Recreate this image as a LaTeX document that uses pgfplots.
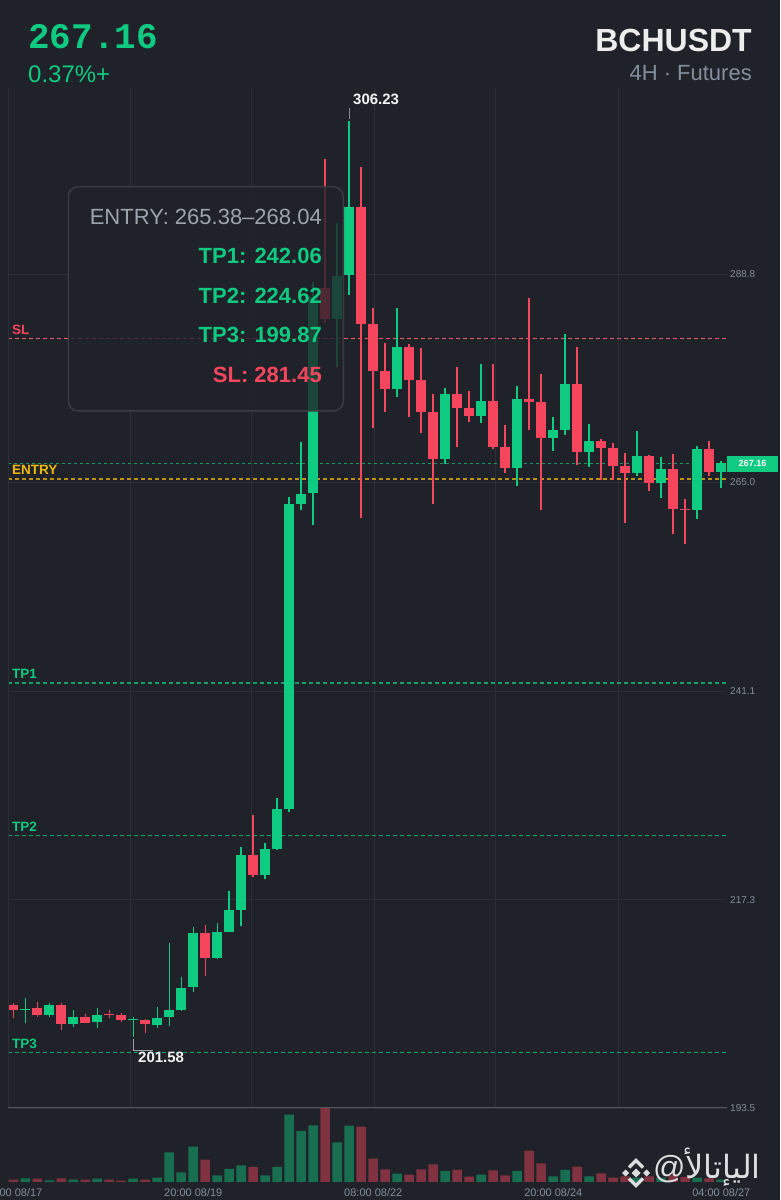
\documentclass[border=0pt]{standalone}
\usepackage{fontspec}
\setmainfont{Liberation Sans}
\newfontfamily\monofont{Liberation Mono}
\newfontfamily\arabicfont[Script=Arabic]{DejaVu Sans}
\usepackage{pgfplots}
\usepackage{pgfplotstable}
\pgfplotsset{compat=1.18}
\TeXXeTstate=1

\definecolor{bg}{RGB}{31,34,40}
\definecolor{cg}{RGB}{14,203,129}
\definecolor{cr}{RGB}{246,70,93}
\definecolor{gridc}{RGB}{44,47,54}
\definecolor{txtgrey}{RGB}{132,142,156}
\definecolor{gold}{RGB}{240,185,11}
\definecolor{boxline}{RGB}{58,60,66}
\colorlet{vg}{cg!45!bg}
\colorlet{vr}{cr!45!bg}

% 4H candles, i = candle index (0 = 08:00 08/17)
\pgfplotstableread{
i o h l c
1 204.73 206.03 203.18 204.85
3 204.13 205.53 203.93 205.27
5 203.10 204.70 202.79 203.93
7 203.29 204.89 202.61 204.13
10 203.55 203.86 201.58 203.65
12 203.02 205.04 202.64 203.84
13 203.90 212.32 202.87 204.70
14 204.70 208.43 204.58 207.25
15 207.27 214.21 206.79 213.46
17 210.67 214.60 210.53 213.65
18 213.65 218.33 213.61 216.13
19 216.13 223.29 214.30 222.37
21 220.09 223.75 219.70 223.10
22 223.10 228.89 222.98 227.70
23 227.70 263.35 227.32 262.48
24 262.52 269.57 261.83 263.66
25 263.74 287.92 260.12 286.18
27 283.62 294.59 278.21 288.61
28 288.69 306.23 286.40 296.49
32 275.62 284.88 274.79 280.49
36 267.66 275.81 267.09 275.05
39 272.61 278.51 271.82 274.29
42 266.60 276.01 264.62 274.52
45 270.10 272.49 268.61 270.98
46 270.98 281.94 270.41 276.27
48 268.42 271.62 266.71 269.72
52 266.02 270.86 265.75 268.00
54 264.88 267.92 263.24 266.48
57 261.83 269.14 260.75 268.80
59 266.21 267.43 264.32 267.16
}\upcandles

\pgfplotstableread{
i o h l c
0 205.27 205.46 203.75 204.70
2 204.89 205.65 203.86 204.13
4 205.27 205.46 202.41 203.10
6 203.93 204.24 203.18 203.25
8 204.21 204.70 203.75 204.09
9 204.13 204.39 203.36 203.55
11 203.55 203.63 202.03 203.06
16 213.46 214.41 208.62 210.67
20 222.37 226.95 219.86 220.09
26 287.17 301.92 283.17 283.62
29 296.49 301.06 260.95 283.05
30 283.05 284.88 271.17 277.75
31 277.75 280.88 273.07 275.62
33 280.49 280.80 272.49 276.69
34 276.69 280.31 270.60 273.07
35 273.00 275.09 262.52 267.66
37 275.05 278.13 268.99 273.45
38 273.45 275.43 271.86 272.61
40 274.29 278.51 268.77 269.07
41 269.07 271.55 266.10 266.60
43 274.52 286.03 270.98 274.21
44 274.21 277.37 261.83 270.10
47 276.27 280.43 267.01 268.42
49 269.72 269.91 265.24 268.95
50 268.95 269.53 265.24 266.89
51 266.89 268.37 260.38 266.02
53 268.00 268.11 264.03 264.88
55 266.48 268.22 259.09 261.94
56 261.94 263.09 257.95 261.83
58 268.80 269.72 265.75 266.21
}\downcandles

% volume (relative units)
\pgfplotstableread{
i v
1 3.7
3 1.7
5 2.3
7 3.3
10 3.3
12 4.3
13 29.7
14 9.7
15 35.3
17 6.7
18 13
19 16.7
21 6.7
22 15
23 67.3
24 51
25 56.7
27 39.7
28 56.3
32 8.3
36 11
39 7.3
42 11
45 5.7
46 12
48 5.7
52 4.3
54 4.3
57 4.3
59 2.3
}\upvol

\pgfplotstableread{
i v
0 2.3
2 3.3
4 3.7
6 2.3
8 2.3
9 1.3
11 2.3
16 22.3
20 15
26 74.3
29 55.3
30 23.3
31 12.7
33 7.3
34 12.7
35 17.7
37 12.3
38 5.3
40 11.7
41 6.7
43 31.3
44 18.7
47 15.3
49 8.7
50 4.3
51 5.7
53 5.7
55 6.7
56 5
58 3.7
}\downvol

\pgfplotsset{
  wick/.style={color=#1, draw=none, mark=none, forget plot,
    error bars/.cd, y dir=minus, y explicit, error mark=none,
    error bar style={color=#1, draw=#1, line width=1.4pt}},
  body/.style={color=#1, draw=none, mark=none, forget plot,
    error bars/.cd, y dir=minus, y explicit, error mark=none,
    error bar style={color=#1, draw=#1, line width=10pt}},
  level/.style={#1, dash pattern=on 4pt off 3pt, line width=1.2pt, forget plot},
}

\begin{document}
\begin{tikzpicture}[x=1pt, y=1pt]
\path[use as bounding box] (0,0) rectangle (780,1200);
\fill[bg] (0,0) rectangle (780,1200);

% price pane
\begin{axis}[
  at={(8pt,92pt)}, anchor=south west,
  scale only axis, width=719pt, height=1019.5pt,
  xmin=-0.44, xmax=59.5, ymin=193.5, ymax=310,
  axis line style={draw=none}, tick style={draw=none},
  major tick length=0pt,
  xtick={9.73,19.89,30.14,40.23,50.48}, xticklabels={},
  ytick={193.5,217.3,241.1,265.0,288.8},
  yticklabels={193.5,217.3,241.1,265.0,288.8},
  yticklabel pos=right,
  yticklabel style={font=\fontsize{10}{12}\selectfont, text=txtgrey,
    anchor=west, inner sep=0pt, xshift=3pt},
  grid=major, grid style={gridc, line width=0.8pt},
  clip mode=individual,
]
\addplot[level={cr!90}] coordinates {(-0.44,281.45) (59.5,281.45)};
\addplot[level={gold!75!bg}] coordinates {(-0.44,265.38) (59.5,265.38)};
\addplot[level={cg!75!bg}] coordinates {(-0.44,242.06) (59.5,242.06)};
\addplot[level={cg!75!bg}] coordinates {(-0.44,224.62) (59.5,224.62)};
\addplot[level={cg!75!bg}] coordinates {(-0.44,199.87) (59.5,199.87)};
\addplot[cg!70!bg, dash pattern=on 3pt off 3pt, line width=0.9pt, forget plot]
  coordinates {(-0.44,267.16) (59.5,267.16)};

\addplot[wick=cg] table[x=i, y=h, y error minus expr=\thisrow{h}-\thisrow{l}] {\upcandles};
\addplot[body=cg] table[x=i, y=c, y error minus expr=\thisrow{c}-\thisrow{o}] {\upcandles};
\addplot[wick=cr] table[x=i, y=h, y error minus expr=\thisrow{h}-\thisrow{l}] {\downcandles};
\addplot[body=cr] table[x=i, y=o, y error minus expr=\thisrow{o}-\thisrow{c}] {\downcandles};
\end{axis}

% volume pane
\begin{axis}[
  at={(8pt,18pt)}, anchor=south west,
  scale only axis, width=719pt, height=74.5pt,
  xmin=-0.44, xmax=59.5, ymin=0, ymax=74.5,
  hide axis, ybar, bar width=9.5pt,
]
\addplot[fill=vg, draw=none, bar shift=0pt] table[x=i, y=v] {\upvol};
\addplot[fill=vr, draw=none, bar shift=0pt] table[x=i, y=v] {\downvol};
\end{axis}

% pane borders
\draw[gridc, line width=0.8pt] (8,92) -- (8,1111.5);
\draw[gridc!80!white, line width=1pt] (8,92) -- (727,92);

% header
\node[anchor=base west, inner sep=0, text=cg] at (28,1151.7)
  {\fontsize{36}{40}\selectfont\monofont\bfseries 267.16};
\node[anchor=base west, inner sep=0, text=cg] at (28,1117.7)
  {\fontsize{24}{28}\selectfont 0.37\%+};
\node[anchor=base east, inner sep=0, text=white!92!bg] at (752,1148)
  {\fontsize{32}{36}\selectfont\bfseries BCHUSDT};
\node[anchor=base east, inner sep=0, text=txtgrey] at (752,1119)
  {\fontsize{22}{26}\selectfont 4H · Futures};

% level labels
\begin{scope}[every node/.style={anchor=base west, inner sep=0,
    font=\fontsize{13.5}{16}\selectfont\bfseries}]
\node[text=cr] at (12,865.7) {SL};
\node[text=gold] at (12,725) {ENTRY};
\node[text=cg] at (12,521) {TP1};
\node[text=cg] at (12,368.3) {TP2};
\node[text=cg] at (12,151.7) {TP3};
\end{scope}

% last price tag
\fill[cg] (727.3,728.3) rectangle (777.7,744.3);
\node[text=white, inner sep=0, font=\fontsize{9}{10}\selectfont\bfseries] at (752.5,736.3) {267.16};

% high / low markers
\draw[txtgrey, line width=1pt] (349,1092) -- (349,1080.5);
\node[anchor=base west, inner sep=0, text=white!95!bg,
  font=\fontsize{15}{18}\selectfont\bfseries] at (353,1095) {306.23};
\draw[txtgrey!80, line width=1pt] (133.3,161) -- (133.3,149.3) -- (153,149.3);
\node[anchor=base west, inner sep=0, text=white!95!bg,
  font=\fontsize{15}{18}\selectfont\bfseries] at (138,137) {201.58};

% trade box
\filldraw[fill=bg, fill opacity=0.78, draw=boxline, line width=1.5pt, rounded corners=10pt]
  (68.3,789) rectangle (343.3,1013.3);
\begin{scope}[every node/.style={anchor=base east, inner sep=0}]
\node[text=txtgrey!80!white, font=\fontsize{22}{26}\selectfont] at (322,975) {ENTRY: 265.38–268.04};
\node[text=cg, font=\fontsize{22}{26}\selectfont\bfseries] at (322,936) {TP1: 242.06};
\node[text=cg, font=\fontsize{22}{26}\selectfont\bfseries] at (322,896) {TP2: 224.62};
\node[text=cg, font=\fontsize{22}{26}\selectfont\bfseries] at (322,857) {TP3: 199.87};
\node[text=cr, font=\fontsize{22}{26}\selectfont\bfseries] at (322,817) {SL: 281.45};
\end{scope}

% time axis
\begin{scope}[every node/.style={anchor=base, inner sep=0, text=txtgrey,
    font=\fontsize{11}{13}\selectfont}]
\node at (13.3,3.5) {08:00 08/17};
\node at (193.3,3.5) {20:00 08/19};
\node at (373.3,3.5) {08:00 08/22};
\node at (553.3,3.5) {20:00 08/24};
\node at (721.3,3.5) {04:00 08/27};
\end{scope}

% watermark
\begin{scope}[shift={(636,27)}, white!85!bg]
\fill (0,-4.5) -- (4.5,0) -- (0,4.5) -- (-4.5,0) -- cycle;
\fill (-10.5,-3.5) -- (-7,0) -- (-10.5,3.5) -- (-14,0) -- cycle;
\fill (10.5,-3.5) -- (14,0) -- (10.5,3.5) -- (7,0) -- cycle;
\draw[line width=3.2pt] (-7,5.5) -- (0,12.5) -- (7,5.5);
\draw[line width=3.2pt] (-7,-5.5) -- (0,-12.5) -- (7,-5.5);
\end{scope}
\node[anchor=base west, inner sep=0, text=white!85!bg] at (653,21)
  {\fontsize{32}{36}\selectfont @\arabicfont\beginR اليإتالأ\endR};
\end{tikzpicture}
\end{document}
